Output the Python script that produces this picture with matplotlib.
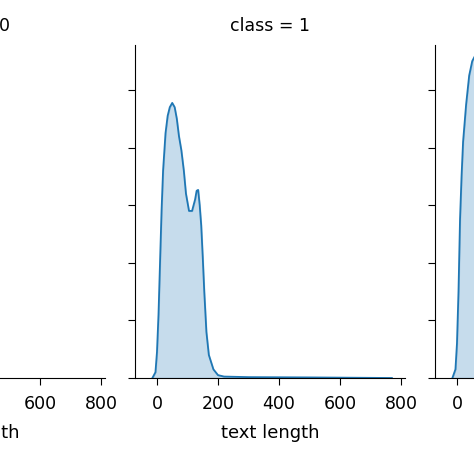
import matplotlib
matplotlib.use("Agg")
import matplotlib.pyplot as plt
import numpy as np

# KDE curves (text length vs density)
x1 = [-15, -5, 0, 5, 10, 15, 20, 28, 35, 42, 50, 58, 65, 72, 80, 88, 95, 105, 115, 125, 130, 135, 140, 145, 150, 155, 162, 170, 185, 200, 220, 300, 500, 770]
d1 = [0.0, 0.0002, 0.0009, 0.0022, 0.0040, 0.0058, 0.0072, 0.0085, 0.0091, 0.0094, 0.00955, 0.0094, 0.0090, 0.0084, 0.0079, 0.0072, 0.0064, 0.0058, 0.0058, 0.0062, 0.0065, 0.00653, 0.0060, 0.0053, 0.0042, 0.0030, 0.0016, 0.0008, 0.0003, 0.0001, 0.00005, 0.00003, 0.00002, 0.0]
x2 = [-15, -5, 0, 5, 10, 15, 20, 30, 40, 50, 60]
d2 = [0.0, 0.0003, 0.0012, 0.0030, 0.0055, 0.0070, 0.0082, 0.0095, 0.0105, 0.0110, 0.0112]
x0 = [-15, 0, 50, 100, 150, 200, 250]
d0 = [0.0, 0.002, 0.009, 0.007, 0.004, 0.0005, 0.0]
titles = ["class = 0", "class = 1", "class = 2"]
xticks = [0, 200, 400, 600, 800]
yticks = [0, 0.002, 0.004, 0.006, 0.008, 0.010]

fig = plt.figure(figsize=(4.74, 4.74), dpi=100)
W, B, H = 270/474, 96/474, 333/474
lefts = [-165/474, 135/474, 435/474]
for left, xs, ds, t in zip(lefts, [x0, x1, x2], [d0, d1, d2], titles):
    ax = fig.add_axes([left, B, W, H])
    ax.plot(xs, ds, color="C0", lw=1.3)
    ax.fill_between(xs, ds, color="C0", alpha=0.25)
    ax.set_xlim(-72, 813)
    ax.set_ylim(0, 0.01156)
    ax.set_xticks(xticks)
    ax.set_yticks(yticks)
    ax.set_yticklabels([])
    ax.tick_params(labelsize=12.5, length=5, pad=7)
    ax.set_xlabel("text length", fontsize=13, labelpad=8)
    ax.set_title(t, fontsize=12.5, pad=10)
    for s in ["top", "right"]:
        ax.spines[s].set_visible(False)
fig.savefig("out.png", dpi=100)
